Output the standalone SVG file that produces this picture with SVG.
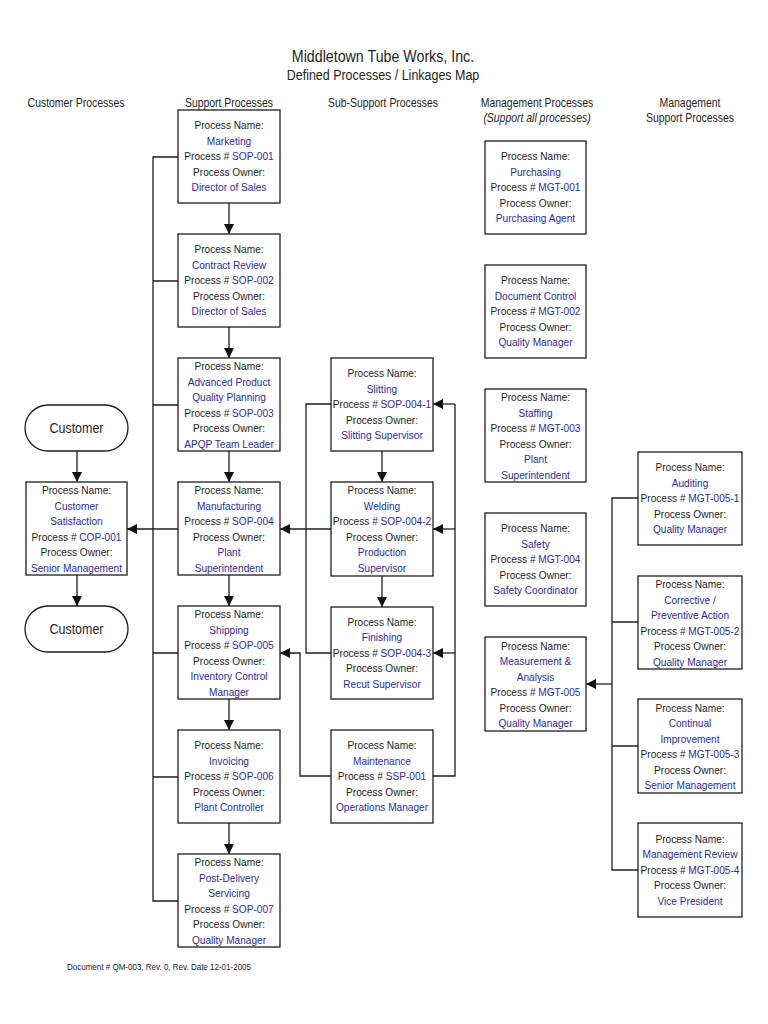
<svg xmlns="http://www.w3.org/2000/svg" width="768" height="1024" viewBox="0 0 768 1024">
<style>
text{font-family:"Liberation Sans",Arial,sans-serif;fill:#1e1e1e;text-anchor:middle}
.t{font-size:11.5px}
.b{fill:#2c2ca0}
.box{fill:#fff;stroke:#1e1e1e;stroke-width:1.3}
.ln{fill:none;stroke:#1e1e1e;stroke-width:1.3}
.ar{fill:none;stroke:#1e1e1e;stroke-width:1.3;marker-end:url(#ah)}
.h{font-size:12px}
</style>
<defs>
<marker id="ah" markerUnits="userSpaceOnUse" markerWidth="10" markerHeight="10" refX="10" refY="5" orient="auto">
<path d="M0,0 L10,5 L0,10 Z" fill="#111"/>
</marker>
</defs>
<rect width="768" height="1024" fill="#fff"/>
<g id="title">
<g transform="translate(383 0) scale(.89 1)">
<text y="62" style="font-size:16px">Middletown Tube Works, Inc.</text>
<text y="80.5" style="font-size:14px">Defined Processes / Linkages Map</text>
</g>
</g>
<g id="headers" class="h">
<g transform="translate(76 0) scale(.87 1)"><text class="h" y="107">Customer Processes</text></g>
<g transform="translate(229 0) scale(.87 1)"><text class="h" y="107">Support Processes</text></g>
<g transform="translate(383 0) scale(.87 1)"><text class="h" y="107">Sub-Support Processes</text></g>
<g transform="translate(537 0) scale(.87 1)"><text class="h" y="107">Management Processes</text><text class="h" y="122" font-style="italic">(Support all processes)</text></g>
<g transform="translate(690 0) scale(.87 1)"><text class="h" y="107">Management</text><text class="h" y="122">Support Processes</text></g>
</g>
<g id="connectors">
<line class="ar" x1="77" y1="451" x2="77" y2="482"/>
<line class="ar" x1="77" y1="575" x2="77" y2="606"/>
<line class="ar" x1="178" y1="529" x2="127" y2="529"/>
<line class="ar" x1="229" y1="203" x2="229" y2="234"/>
<line class="ar" x1="229" y1="327" x2="229" y2="358"/>
<line class="ar" x1="229" y1="451" x2="229" y2="482"/>
<line class="ar" x1="229" y1="575" x2="229" y2="606"/>
<line class="ar" x1="229" y1="699" x2="229" y2="730"/>
<line class="ar" x1="229" y1="823" x2="229" y2="854"/>
<path class="ln" d="M178,157 H153 V901 H178 M153,281 H178 M153,405 H178 M153,653 H178 M153,777 H178"/>
<line class="ar" x1="382" y1="451" x2="382" y2="482"/>
<line class="ar" x1="382" y1="576" x2="382" y2="607"/>
<path class="ln" d="M331,404 H306 V653 H331"/>
<line class="ar" x1="331" y1="529" x2="280" y2="529"/>
<path class="ln" d="M433,776 H455 V404"/>
<line class="ar" x1="455" y1="404" x2="433" y2="404"/>
<line class="ar" x1="455" y1="529" x2="433" y2="529"/>
<line class="ar" x1="455" y1="653" x2="433" y2="653"/>
<path class="ar" d="M331,776 H300 V653 H280"/>
<path class="ln" d="M638,498 H612 V870 H638 M612,622 H638 M612,746 H638"/>
<line class="ar" x1="612" y1="684" x2="586" y2="684"/>
</g>
<g id="customer-1">
<rect class="box" x="25" y="405" width="103" height="46" rx="23"/>
<g transform="translate(76.5 0) scale(.89 1)"><text y="433" style="font-size:14px">Customer</text></g>
</g>
<g id="customer-2">
<rect class="box" x="25" y="606" width="103" height="46" rx="23"/>
<g transform="translate(76.5 0) scale(.89 1)"><text y="634" style="font-size:14px">Customer</text></g>
</g>
<g id="cop-001">
<rect class="box" x="26" y="482" width="101" height="93"/>
<g class="t" transform="translate(76.5 0) scale(.88 1)">
<text class="t" y="494.25">Process Name:</text>
<text class="t b" y="509.75">Customer</text>
<text class="t b" y="525.25">Satisfaction</text>
<text class="t" y="540.75">Process # <tspan class="b">COP-001</tspan></text>
<text class="t" y="556.25">Process Owner:</text>
<text class="t b" y="571.75">Senior Management</text>
</g>
</g>
<g id="sop-001">
<rect class="box" x="178" y="110" width="102" height="93"/>
<g transform="translate(229 0) scale(.88 1)">
<text class="t" y="129.5">Process Name:</text>
<text class="t b" y="145">Marketing</text>
<text class="t" y="160.5">Process # <tspan class="b">SOP-001</tspan></text>
<text class="t" y="176">Process Owner:</text>
<text class="t b" y="191.5">Director of Sales</text>
</g>
</g>
<g id="sop-002">
<rect class="box" x="178" y="234" width="102" height="93"/>
<g transform="translate(229 0) scale(.88 1)">
<text class="t" y="253.5">Process Name:</text>
<text class="t b" y="269">Contract Review</text>
<text class="t" y="284.5">Process # <tspan class="b">SOP-002</tspan></text>
<text class="t" y="300">Process Owner:</text>
<text class="t b" y="315.5">Director of Sales</text>
</g>
</g>
<g id="sop-003">
<rect class="box" x="178" y="358" width="102" height="93"/>
<g transform="translate(229 0) scale(.88 1)">
<text class="t" y="370.25">Process Name:</text>
<text class="t b" y="385.75">Advanced Product</text>
<text class="t b" y="401.25">Quality Planning</text>
<text class="t" y="416.75">Process # <tspan class="b">SOP-003</tspan></text>
<text class="t" y="432.25">Process Owner:</text>
<text class="t b" y="447.75">APQP Team Leader</text>
</g>
</g>
<g id="sop-004">
<rect class="box" x="178" y="482" width="102" height="93"/>
<g transform="translate(229 0) scale(.88 1)">
<text class="t" y="494.25">Process Name:</text>
<text class="t b" y="509.75">Manufacturing</text>
<text class="t" y="525.25">Process # <tspan class="b">SOP-004</tspan></text>
<text class="t" y="540.75">Process Owner:</text>
<text class="t b" y="556.25">Plant</text>
<text class="t b" y="571.75">Superintendent</text>
</g>
</g>
<g id="sop-005">
<rect class="box" x="178" y="606" width="102" height="93"/>
<g transform="translate(229 0) scale(.88 1)">
<text class="t" y="618.25">Process Name:</text>
<text class="t b" y="633.75">Shipping</text>
<text class="t" y="649.25">Process # <tspan class="b">SOP-005</tspan></text>
<text class="t" y="664.75">Process Owner:</text>
<text class="t b" y="680.25">Inventory Control</text>
<text class="t b" y="695.75">Manager</text>
</g>
</g>
<g id="sop-006">
<rect class="box" x="178" y="730" width="102" height="93"/>
<g transform="translate(229 0) scale(.88 1)">
<text class="t" y="749.5">Process Name:</text>
<text class="t b" y="765">Invoicing</text>
<text class="t" y="780.5">Process # <tspan class="b">SOP-006</tspan></text>
<text class="t" y="796">Process Owner:</text>
<text class="t b" y="811.5">Plant Controller</text>
</g>
</g>
<g id="sop-007">
<rect class="box" x="178" y="854" width="102" height="93"/>
<g transform="translate(229 0) scale(.88 1)">
<text class="t" y="866.25">Process Name:</text>
<text class="t b" y="881.75">Post-Delivery</text>
<text class="t b" y="897.25">Servicing</text>
<text class="t" y="912.75">Process # <tspan class="b">SOP-007</tspan></text>
<text class="t" y="928.25">Process Owner:</text>
<text class="t b" y="943.75">Quality Manager</text>
</g>
</g>
<g id="sop-004-1">
<rect class="box" x="331" y="358" width="102" height="93"/>
<g transform="translate(382 0) scale(.88 1)">
<text class="t" y="377.5">Process Name:</text>
<text class="t b" y="393">Slitting</text>
<text class="t" y="408.5">Process # <tspan class="b">SOP-004-1</tspan></text>
<text class="t" y="424">Process Owner:</text>
<text class="t b" y="439.5">Slitting Supervisor</text>
</g>
</g>
<g id="sop-004-2">
<rect class="box" x="331" y="482" width="102" height="94"/>
<g transform="translate(382 0) scale(.88 1)">
<text class="t" y="494.25">Process Name:</text>
<text class="t b" y="509.75">Welding</text>
<text class="t" y="525.25">Process # <tspan class="b">SOP-004-2</tspan></text>
<text class="t" y="540.75">Process Owner:</text>
<text class="t b" y="556.25">Production</text>
<text class="t b" y="571.75">Supervisor</text>
</g>
</g>
<g id="sop-004-3">
<rect class="box" x="331" y="607" width="102" height="92"/>
<g transform="translate(382 0) scale(.88 1)">
<text class="t" y="626">Process Name:</text>
<text class="t b" y="641.5">Finishing</text>
<text class="t" y="657">Process # <tspan class="b">SOP-004-3</tspan></text>
<text class="t" y="672.5">Process Owner:</text>
<text class="t b" y="688">Recut Supervisor</text>
</g>
</g>
<g id="ssp-001">
<rect class="box" x="331" y="730" width="102" height="93"/>
<g transform="translate(382 0) scale(.88 1)">
<text class="t" y="749.5">Process Name:</text>
<text class="t b" y="765">Maintenance</text>
<text class="t" y="780.5">Process # <tspan class="b">SSP-001</tspan></text>
<text class="t" y="796">Process Owner:</text>
<text class="t b" y="811.5">Operations Manager</text>
</g>
</g>
<g id="mgt-001">
<rect class="box" x="485" y="141" width="101" height="93"/>
<g transform="translate(535.5 0) scale(.88 1)">
<text class="t" y="160.5">Process Name:</text>
<text class="t b" y="176">Purchasing</text>
<text class="t" y="191.5">Process # <tspan class="b">MGT-001</tspan></text>
<text class="t" y="207">Process Owner:</text>
<text class="t b" y="222.5">Purchasing Agent</text>
</g>
</g>
<g id="mgt-002">
<rect class="box" x="485" y="265" width="101" height="93"/>
<g transform="translate(535.5 0) scale(.88 1)">
<text class="t" y="284.5">Process Name:</text>
<text class="t b" y="300">Document Control</text>
<text class="t" y="315.5">Process # <tspan class="b">MGT-002</tspan></text>
<text class="t" y="331">Process Owner:</text>
<text class="t b" y="346.5">Quality Manager</text>
</g>
</g>
<g id="mgt-003">
<rect class="box" x="485" y="389" width="101" height="93"/>
<g transform="translate(535.5 0) scale(.88 1)">
<text class="t" y="401.25">Process Name:</text>
<text class="t b" y="416.75">Staffing</text>
<text class="t" y="432.25">Process # <tspan class="b">MGT-003</tspan></text>
<text class="t" y="447.75">Process Owner:</text>
<text class="t b" y="463.25">Plant</text>
<text class="t b" y="478.75">Superintendent</text>
</g>
</g>
<g id="mgt-004">
<rect class="box" x="485" y="513" width="101" height="93"/>
<g transform="translate(535.5 0) scale(.88 1)">
<text class="t" y="532.5">Process Name:</text>
<text class="t b" y="548">Safety</text>
<text class="t" y="563.5">Process # <tspan class="b">MGT-004</tspan></text>
<text class="t" y="579">Process Owner:</text>
<text class="t b" y="594.5">Safety Coordinator</text>
</g>
</g>
<g id="mgt-005">
<rect class="box" x="485" y="637" width="101" height="94"/>
<g transform="translate(535.5 0) scale(.88 1)">
<text class="t" y="649.75">Process Name:</text>
<text class="t b" y="665.25">Measurement &amp;</text>
<text class="t b" y="680.75">Analysis</text>
<text class="t" y="696.25">Process # <tspan class="b">MGT-005</tspan></text>
<text class="t" y="711.75">Process Owner:</text>
<text class="t b" y="727.25">Quality Manager</text>
</g>
</g>
<g id="mgt-005-1">
<rect class="box" x="638" y="452" width="104" height="93"/>
<g transform="translate(690 0) scale(.88 1)">
<text class="t" y="471.5">Process Name:</text>
<text class="t b" y="487">Auditing</text>
<text class="t" y="502.5">Process # <tspan class="b">MGT-005-1</tspan></text>
<text class="t" y="518">Process Owner:</text>
<text class="t b" y="533.5">Quality Manager</text>
</g>
</g>
<g id="mgt-005-2">
<rect class="box" x="638" y="576" width="104" height="93"/>
<g transform="translate(690 0) scale(.88 1)">
<text class="t" y="588.25">Process Name:</text>
<text class="t b" y="603.75">Corrective /</text>
<text class="t b" y="619.25">Preventive Action</text>
<text class="t" y="634.75">Process # <tspan class="b">MGT-005-2</tspan></text>
<text class="t" y="650.25">Process Owner:</text>
<text class="t b" y="665.75">Quality Manager</text>
</g>
</g>
<g id="mgt-005-3">
<rect class="box" x="638" y="699" width="104" height="94"/>
<g transform="translate(690 0) scale(.88 1)">
<text class="t" y="711.75">Process Name:</text>
<text class="t b" y="727.25">Continual</text>
<text class="t b" y="742.75">Improvement</text>
<text class="t" y="758.25">Process # <tspan class="b">MGT-005-3</tspan></text>
<text class="t" y="773.75">Process Owner:</text>
<text class="t b" y="789.25">Senior Management</text>
</g>
</g>
<g id="mgt-005-4">
<rect class="box" x="638" y="823" width="104" height="94"/>
<g transform="translate(690 0) scale(.88 1)">
<text class="t" y="843">Process Name:</text>
<text class="t b" y="858.5">Management Review</text>
<text class="t" y="874">Process # <tspan class="b">MGT-005-4</tspan></text>
<text class="t" y="889.5">Process Owner:</text>
<text class="t b" y="905">Vice President</text>
</g>
</g>
<g id="footer">
<text x="67" y="970" style="font-size:8.5px;text-anchor:start" textLength="184" lengthAdjust="spacingAndGlyphs">Document # QM-003, Rev. 0, Rev. Date 12-01-2005</text>
</g>
</svg>
